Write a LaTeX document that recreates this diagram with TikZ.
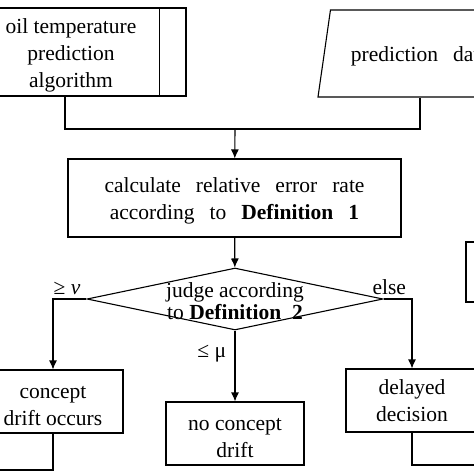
\documentclass[tikz,border=0pt]{standalone}
\usepackage{fontspec}
\setmainfont{Liberation Serif}
\usetikzlibrary{shapes.geometric,arrows.meta}
\newcommand{\widesp}{\spaceskip=0.7em\relax}
\newcommand{\topstrut}{\rule{0pt}{21pt}}
\begin{document}
\begin{tikzpicture}[x=1pt, y=-1pt, line width=1.1pt, >={Latex[length=9pt,width=8pt]},
	box style/.style={rectangle, draw, align=center, inner sep=0pt, font=\fontsize{21.5}{27}\selectfont},
	io style/.style={trapezium, trapezium left angle=64, trapezium right angle=116, trapezium stretches body, draw, align=center, inner sep=0pt, font=\fontsize{21.5}{27}\selectfont},
	decision style/.style={diamond, draw, inner sep=0pt},
	label style/.style={font=\fontsize{21.5}{22}\selectfont}]
	\useasboundingbox (0,0) rectangle (474,474);
	\clip (0,0) rectangle (474,474);
	\node[box style, minimum width=230pt, minimum height=88pt] (algo) at (71, 52) {\topstrut oil temperature\\prediction\\algorithm};
	\draw ([xshift=-27pt]algo.north east) -- ([xshift=-27pt]algo.south east);
	\draw ([xshift=27pt]algo.north west) -- ([xshift=27pt]algo.south west);
	\node[io style, minimum width=204pt, minimum height=87pt] (data) at (420, 53.5) {\topstrut\widesp prediction data};
	\coordinate (merge) at (235, 129);
	\node[box style, minimum width=333pt, minimum height=78pt] (calc) at (234.5, 198) {\topstrut\widesp calculate relative error rate\\\widesp according to \textbf{Definition 1}};
	\node[decision style, minimum width=296pt, minimum height=62pt] (judge) at (235, 299) {};
	\node[label style, align=center, yshift=-2pt] (judgetext) at (judge.center) {judge according\\to \textbf{Definition\ \ 2}};
	\node[box style, minimum width=140pt, minimum height=63pt] (concept) at (53, 401.5) {\topstrut concept\\drift occurs};
	\node[box style, minimum width=138pt, minimum height=63pt] (noconcept) at (235, 433.5) {\topstrut no concept\\drift};
	\node[box style, minimum width=132pt, minimum height=63pt] (delayed) at (412, 400.5) {delayed\\decision};
	\node[box style, minimum width=68pt, minimum height=60pt] (extra) at (500, 272) {};
	\coordinate (leftout) at (-20, 470);
	\coordinate (rightout) at (490, 465);
	\draw ([xshift=-6pt]algo.south) |- (merge) -| (data.south);
	\draw[->] (merge) -- (calc);
	\draw[->] (calc) -- (judge);
	\draw[->] (judge.west) -| node[label style, pos=0.5, above, xshift=14pt] {≥ \textit{v}} (concept.north);
	\draw[->] (judge.east) -| node[label style, pos=0.1, above] {else} (delayed.north);
	\draw[->] (judge.south) -- node[label style, pos=0.3, left, xshift=-5pt, yshift=-2pt] {≤ μ} (noconcept.north);
	\draw (concept.south) |- (leftout);
	\draw (delayed.south) |- (rightout);
\end{tikzpicture}
\end{document}
